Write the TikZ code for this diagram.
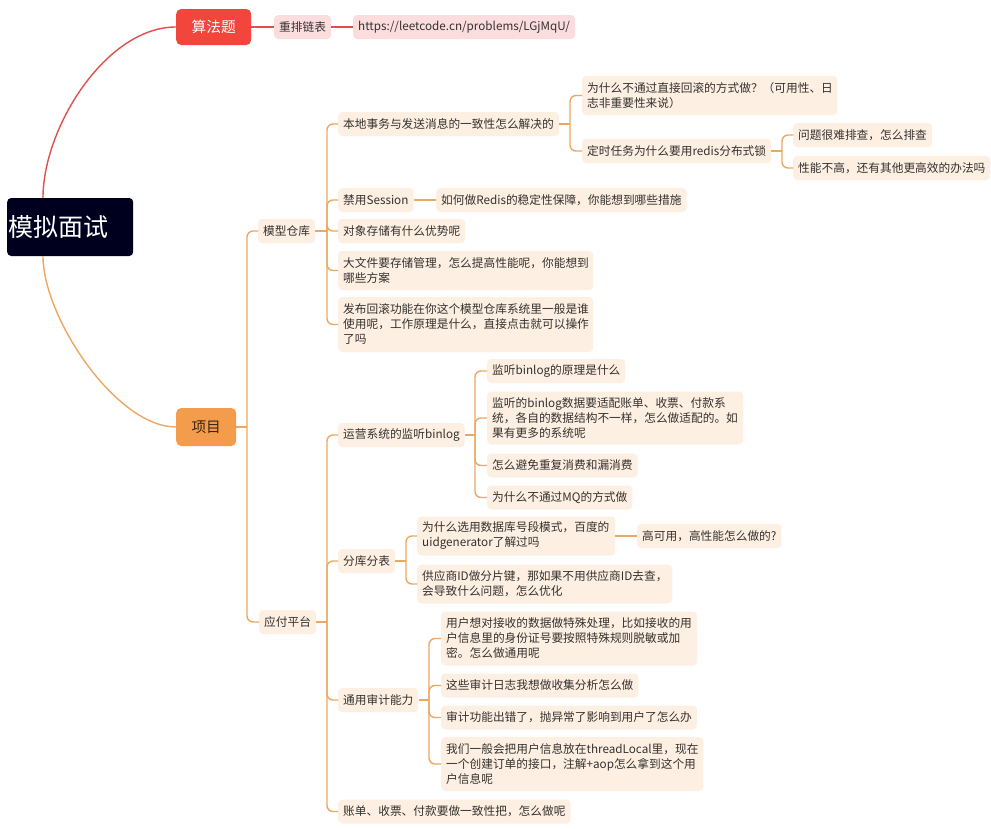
\documentclass[tikz,border=0pt]{standalone}
\usepackage{fontspec}
\setmainfont{Noto Sans CJK SC}
\definecolor{rootc}{HTML}{00001E}
\definecolor{redc}{HTML}{F2453B}
\definecolor{redl}{HTML}{E0504A}
\definecolor{pinkc}{HTML}{FBDDDD}
\definecolor{orc}{HTML}{F39C4B}
\definecolor{orl}{HTML}{EBA862}
\definecolor{leafc}{HTML}{FDEFE2}
\definecolor{txt}{HTML}{35312E}
\definecolor{xmtxt}{HTML}{3A2412}
\tikzset{
  base/.style={anchor=west, rounded corners=4pt, inner xsep=5pt, inner ysep=3pt,
    minimum height=24pt, font=\fontsize{11.7pt}{15pt}\selectfont, text=txt},
  leaf/.style={base, fill=leafc},
  pleaf/.style={base, fill=pinkc},
  ml/.style n args={2}{leaf, align=left, text width=#1, minimum height=#2},
  topic/.style={anchor=west, rounded corners=5pt, inner sep=0pt,
    font=\fontsize{14.7pt}{18pt}\selectfont},
  rootbox/.style={anchor=west, fill=rootc, text=white, rounded corners=4pt,
    minimum width=126pt, minimum height=58pt, text width=123pt, align=left,
    inner xsep=1.5pt, inner ysep=0pt, font=\fontsize{25pt}{30pt}\selectfont},
  ol/.style={draw=orl, line width=1.4pt},
  rl/.style={draw=redl, line width=1.4pt},
  rc/.style={rounded corners=6pt}
}
\begin{document}
\begin{tikzpicture}[x=1pt,y=-1pt]
\fill[white] (0,0) rectangle (991,828);
\useasboundingbox (0,0) rectangle (991,828);

% main nodes
\node[rootbox] (root) at (7,227) {模拟面试};
\node[topic, fill=redc, text=white, minimum width=75pt, minimum height=36pt] (sf) at (176,27) {算法题};
\node[pleaf] (cp) at (274,27) {重排链表};
\node[pleaf] (url) at (353,27) {https://leetcode.cn/problems/LGjMqU/};
\node[topic, fill=orc, text=xmtxt, minimum width=60pt, minimum height=38pt] (xm) at (176,427) {项目};

\node[leaf] (mx) at (258,231) {模型仓库};
\node[leaf] (yf) at (259,622) {应付平台};

% 模型仓库 children
\node[leaf] (a1) at (338,124) {本地事务与发送消息的一致性怎么解决的};
\node[ml={245pt}{39pt}] (a11) at (582,95.5) {为什么不通过直接回滚的方式做？（可用性、日\\志非重要性来说）};
\node[leaf] (a12) at (582,151) {定时任务为什么要用redis分布式锁};
\node[leaf] (a121) at (793,135) {问题很难排查，怎么排查};
\node[leaf] (a122) at (793,168) {性能不高，还有其他更高效的办法吗};
\node[leaf] (a2) at (338,200) {禁用Session};
\node[leaf] (a21) at (436,200) {如何做Redis的稳定性保障，你能想到哪些措施};
\node[leaf] (a3) at (338,231) {对象存储有什么优势呢};
\node[ml={245pt}{39pt}] (a4) at (338,270.5) {大文件要存储管理，怎么提高性能呢，你能想到\\哪些方案};
\node[ml={245pt}{55pt}] (a5) at (338,324.5) {发布回滚功能在你这个模型仓库系统里一般是谁\\使用呢，工作原理是什么，直接点击就可以操作\\了吗};

% 应付平台 children
\node[leaf] (b1) at (338,435) {运营系统的监听binlog};
\node[leaf] (b11) at (487,371) {监听binlog的原理是什么};
\node[ml={246pt}{53pt}] (b12) at (487,418) {监听的binlog数据要适配账单、收票、付款系\\统，各自的数据结构不一样，怎么做适配的。如\\果有更多的系统呢};
\node[leaf] (b13) at (487,465.5) {怎么避免重复消费和漏消费};
\node[leaf] (b14) at (487,497.5) {为什么不通过MQ的方式做};
\node[leaf] (b2) at (338,561) {分库分表};
\node[ml={188pt}{39pt}] (b21) at (417,536) {为什么选用数据库号段模式，百度的\\uidgenerator了解过吗};
\node[leaf] (b211) at (637,536) {高可用，高性能怎么做的?};
\node[ml={245pt}{39pt}] (b22) at (417,584) {供应商ID做分片键，那如果不用供应商ID去查，\\会导致什么问题，怎么优化};
\node[leaf] (b3) at (338,700) {通用审计能力};
\node[ml={246pt}{54pt}] (b31) at (441,638.5) {用户想对接收的数据做特殊处理，比如接收的用\\户信息里的身份证号要按照特殊规则脱敏或加\\密。怎么做通用呢};
\node[leaf] (b32) at (441,685.5) {这些审计日志我想做收集分析怎么做};
\node[leaf] (b33) at (441,717.5) {审计功能出错了，抛异常了影响到用户了怎么办};
\node[ml={252pt}{54pt}] (b34) at (441,764) {我们一般会把用户信息放在threadLocal里，现在\\一个创建订单的接口，注解+aop怎么拿到这个用\\户信息呢};
\node[leaf] (b4) at (338,811.5) {账单、收票、付款要做一致性把，怎么做呢};

% root curves
\draw[rl] ([xshift=36pt]root.north west) .. controls +(0,-70) and +(-70,0) .. (sf.west);
\draw[ol] ([xshift=36pt]root.south west) .. controls +(0,61) and +(-60,0) .. (xm.west);
\draw[rl] (sf.east) -- (cp.west);
\draw[rl] (cp.east) -- (url.west);

% 项目
\coordinate (tx) at (247,427);
\draw[ol] (xm.east) -- (tx);
\draw[ol,rc] (tx) |- (mx.west);
\draw[ol,rc] (tx) |- (yf.west);

% 模型仓库
\coordinate (tmx) at (327,231);
\draw[ol] (mx.east) -- (tmx);
\foreach \c in {a1,a2,a3,a4,a5} \draw[ol,rc] (tmx) |- (\c.west);
\coordinate (ta1) at (570,124);
\draw[ol] (a1.east) -- (ta1);
\foreach \c in {a11,a12} \draw[ol,rc] (ta1) |- (\c.west);
\coordinate (ta12) at (782,151);
\draw[ol] (a12.east) -- (ta12);
\foreach \c in {a121,a122} \draw[ol,rc] (ta12) |- (\c.west);
\draw[ol] (a2.east) -- (a21.west);

% 应付平台
\coordinate (tyf) at (327,622);
\draw[ol] (yf.east) -- (tyf);
\foreach \c in {b1,b2,b3,b4} \draw[ol,rc] (tyf) |- (\c.west);
\coordinate (tb1) at (475,435);
\draw[ol] (b1.east) -- (tb1);
\foreach \c in {b11,b12,b13,b14} \draw[ol,rc] (tb1) |- (\c.west);
\coordinate (tb2) at (406,561);
\draw[ol] (b2.east) -- (tb2);
\foreach \c in {b21,b22} \draw[ol,rc] (tb2) |- (\c.west);
\draw[ol] (b21.east) -- (b211.west);
\coordinate (tb3) at (429,700);
\draw[ol] (b3.east) -- (tb3);
\foreach \c in {b31,b32,b33,b34} \draw[ol,rc] (tb3) |- (\c.west);
\end{tikzpicture}
\end{document}
